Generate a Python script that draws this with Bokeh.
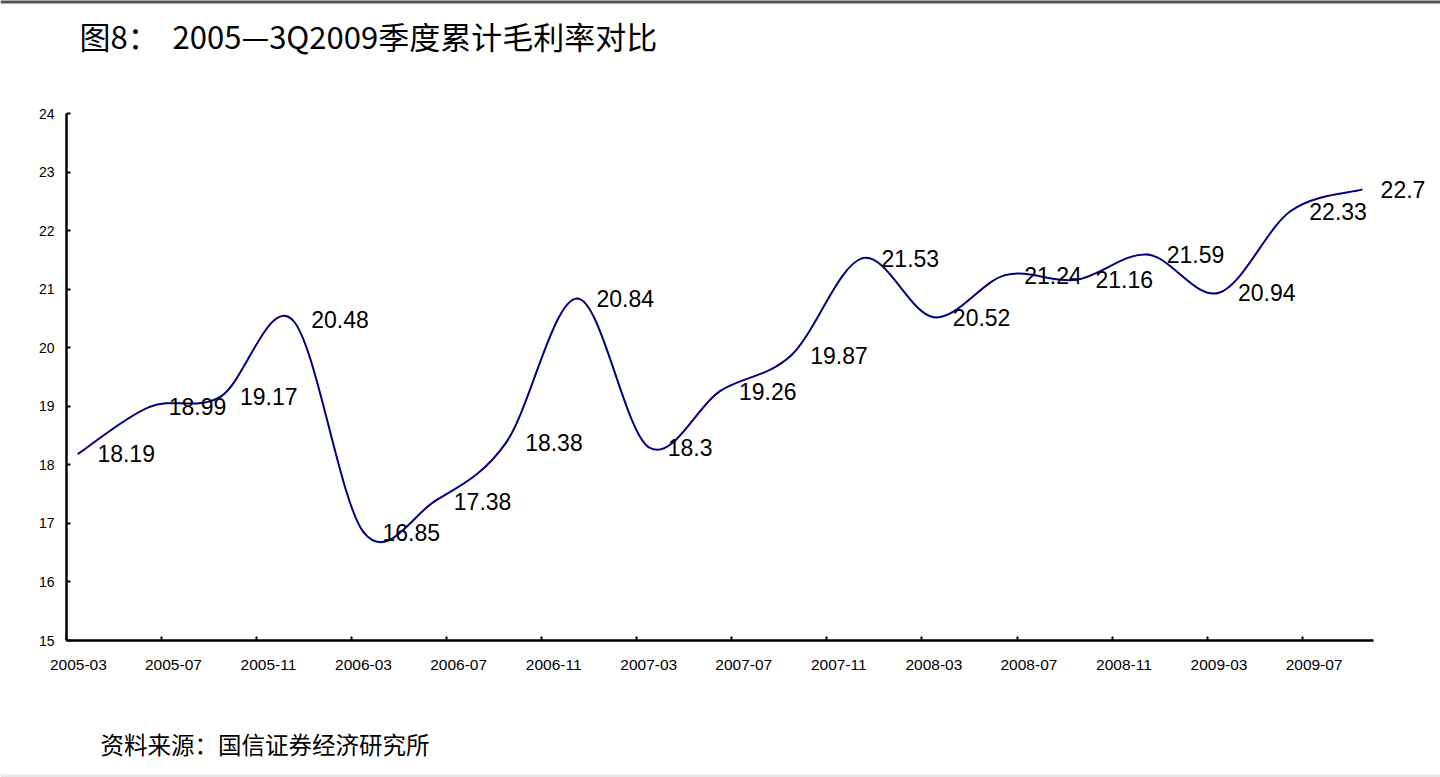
from bokeh.plotting import figure
from bokeh.models import (Range1d, FixedTicker, Label, LabelSet, ColumnDataSource,
                          BoxAnnotation)
from bokeh.core.properties import value
from bokeh.embed import file_html
from bokeh.resources import INLINE

# ---------------- data ----------------
quarters = ["2005-03", "2005-06", "2005-09", "2005-12",
            "2006-03", "2006-06", "2006-09", "2006-12",
            "2007-03", "2007-06", "2007-09", "2007-12",
            "2008-03", "2008-06", "2008-09", "2008-12",
            "2009-03", "2009-06", "2009-09"]
margin = [18.19, 18.99, 19.17, 20.48,
          16.85, 17.38, 18.38, 20.84,
          18.30, 19.26, 19.87, 21.53,
          20.52, 21.24, 21.16, 21.59,
          20.94, 22.33, 22.70]
margin_text = ["18.19", "18.99", "19.17", "20.48",
               "16.85", "17.38", "18.38", "20.84",
               "18.3", "19.26", "19.87", "21.53",
               "20.52", "21.24", "21.16", "21.59",
               "20.94", "22.33", "22.7"]
tick_labels = ["2005-03", "2005-07", "2005-11", "2006-03", "2006-07",
               "2006-11", "2007-03", "2007-07", "2007-11", "2008-03",
               "2008-07", "2008-11", "2009-03", "2009-07"]
y_ticks = [15, 16, 17, 18, 19, 20, 21, 22, 23, 24]

title_text = "图8：\u00a0\u00a02005—3Q2009季度累计毛利率对比"
source_text = "资料来源：国信证券经济研究所"


def month_index(s):
    yy, mm = s.split("-")
    return (int(yy) - 2005) * 12 + int(mm) - 3


qx = [month_index(q) for q in quarters]
tx = [month_index(t) for t in tick_labels]
n_months = month_index("2009-09") + 1
y_min, y_max = 15, 24

# ---------------- layout (pixels) ----------------
W, H = 1440, 777
AX_LEFT, AX_RIGHT, AX_TOP, AX_BOTTOM = 66, 1373, 113, 640
px_per_month = (AX_RIGHT - AX_LEFT) / n_months
px_per_unit = (AX_BOTTOM - AX_TOP) / (y_max - y_min)
x_start = -0.5 - AX_LEFT / px_per_month
y_start = y_min - (H - AX_BOTTOM) / px_per_unit

p = figure(width=W, height=H, output_backend="svg", toolbar_location=None,
           x_range=Range1d(x_start, x_start + W / px_per_month),
           y_range=Range1d(y_start, y_start + H / px_per_unit),
           min_border=0, min_border_left=0, min_border_right=0,
           min_border_top=0, min_border_bottom=0)
p.title.visible = False
p.xgrid.visible = False
p.ygrid.visible = False
p.outline_line_color = None
p.background_fill_color = "white"
p.border_fill_color = "white"

# x axis: labels centred on months, tick marks on month boundaries
xa = p.xaxis[0]
xa.fixed_location = y_min
xa.bounds = (-0.5, n_months - 0.5)
xa.ticker = FixedTicker(ticks=tx, minor_ticks=[t - 0.5 for t in tx])
xa.major_label_overrides = {t: lab for t, lab in zip(tx, tick_labels)}
xa.major_tick_line_color = None
xa.minor_tick_line_color = "black"
xa.minor_tick_line_width = 2
xa.minor_tick_in = 4
xa.minor_tick_out = 0
xa.axis_line_width = 2.5
xa.axis_line_color = "black"
xa.major_label_text_font = "Liberation Sans"
xa.major_label_text_font_size = "15.5px"
xa.major_label_text_color = "black"
xa.major_label_standoff = 13

ya = p.yaxis[0]
ya.fixed_location = -0.5
ya.bounds = (y_min, y_max)
ya.ticker = FixedTicker(ticks=y_ticks)
ya.minor_tick_line_color = None
ya.major_tick_line_color = "black"
ya.major_tick_line_width = 2
ya.major_tick_in = 4
ya.major_tick_out = 0
ya.axis_line_width = 2.5
ya.axis_line_color = "black"
ya.major_label_text_font = "Liberation Sans"
ya.major_label_text_font_size = "14px"
ya.major_label_text_color = "black"
ya.major_label_standoff = 12

# smoothed line (cubic Bezier segments through the quarterly points)
n = len(qx)
x0s, y0s, x1s, y1s, cx0s, cy0s, cx1s, cy1s = [], [], [], [], [], [], [], []
for i in range(n - 1):
    im, ip = max(i - 1, 0), min(i + 2, n - 1)
    x0s.append(qx[i]); y0s.append(margin[i])
    x1s.append(qx[i + 1]); y1s.append(margin[i + 1])
    cx0s.append(qx[i] + (qx[i + 1] - qx[im]) / 6.0)
    cy0s.append(margin[i] + (margin[i + 1] - margin[im]) / 6.0)
    cx1s.append(qx[i + 1] - (qx[ip] - qx[i]) / 6.0)
    cy1s.append(margin[i + 1] - (margin[ip] - margin[i]) / 6.0)

p.bezier(x0=x0s, y0=y0s, x1=x1s, y1=y1s, cx0=cx0s, cy0=cy0s, cx1=cx1s, cy1=cy1s,
         line_color="#000080", line_width=2, line_cap="round")

src = ColumnDataSource(dict(x=qx, y=margin, t=margin_text))
p.add_layout(LabelSet(x="x", y="y", text="t", source=src, x_offset=19, y_offset=0,
                      text_align="left", text_baseline="middle",
                      text_font=value("Liberation Sans"), text_font_size="23px",
                      text_color="black"))

# title and source (screen units, frame == whole canvas, y measured from bottom)
p.add_layout(Label(x=79, y=H - 35, x_units="screen", y_units="screen",
                   text=title_text, text_align="left", text_baseline="middle",
                   text_font="Noto Sans CJK SC", text_font_size="31px",
                   text_color="black"))
p.add_layout(Label(x=100, y=H - 743, x_units="screen", y_units="screen",
                   text=source_text, text_align="left", text_baseline="middle",
                   text_font="Noto Sans CJK SC", text_font_size="23.5px",
                   text_color="black"))

# decorative top and bottom bands
p.add_layout(BoxAnnotation(left=0, right=W, bottom=H - 3, top=H + 2,
                           left_units="screen", right_units="screen",
                           top_units="screen", bottom_units="screen",
                           fill_color="#4b545b", fill_alpha=1, line_color=None))
p.add_layout(BoxAnnotation(left=0, right=W, bottom=-2, top=3,
                           left_units="screen", right_units="screen",
                           top_units="screen", bottom_units="screen",
                           fill_color="#e6e6e6", fill_alpha=1, line_color=None))

open("out.html", "w").write(file_html(p, INLINE))
